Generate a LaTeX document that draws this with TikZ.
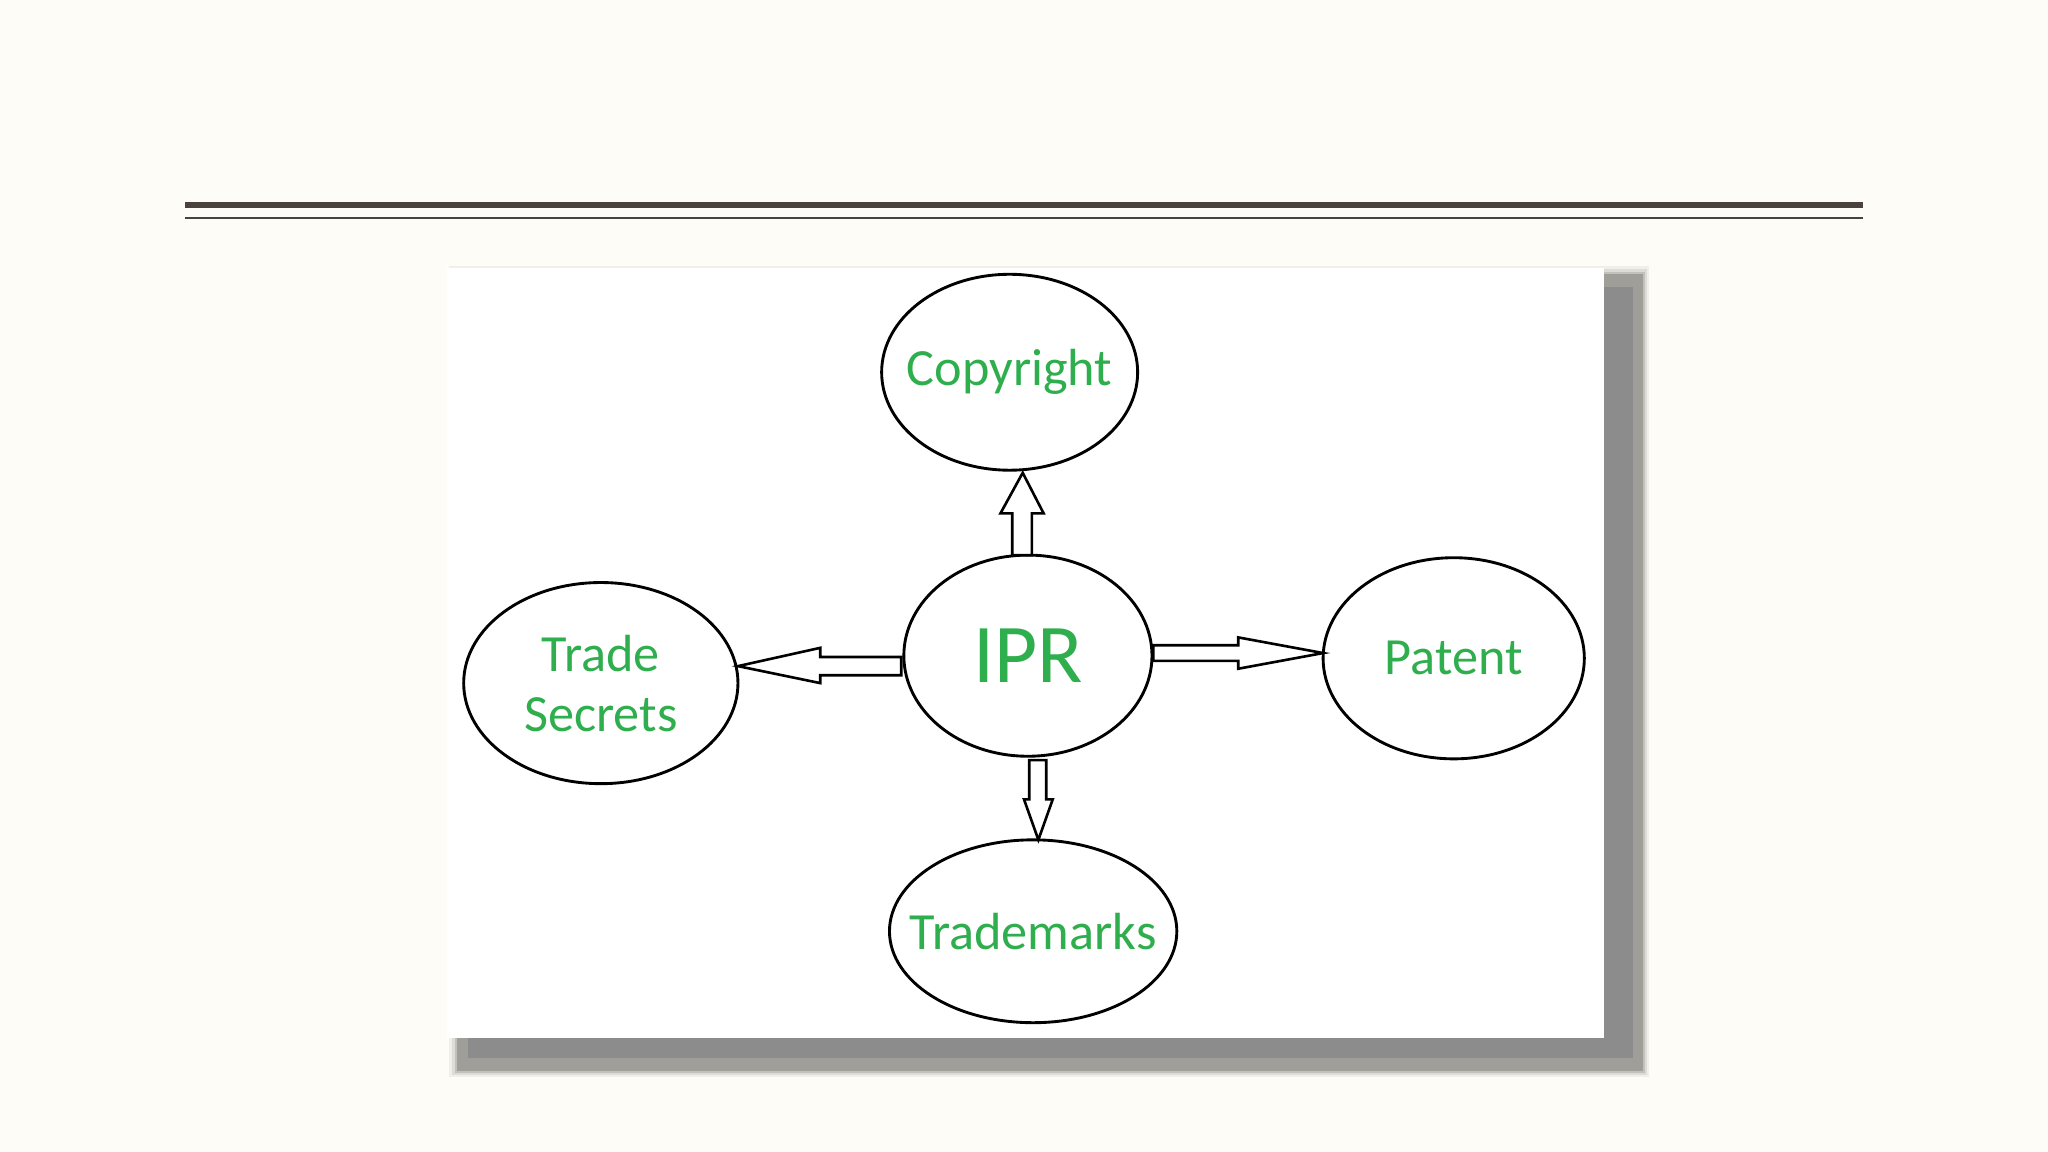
\documentclass[tikz,border=0pt]{standalone}
\usepackage{fontspec}
\setmainfont{Carlito}
\usetikzlibrary{shapes.geometric}
\definecolor{bg}{HTML}{FDFCF6}
\definecolor{grn}{HTML}{2FAE4E}
\definecolor{rule}{HTML}{4A423C}
\begin{document}
\begin{tikzpicture}[x=0.5pt,y=-0.5pt,
  ell/.style={draw=black,line width=1.1pt,ellipse,fill=white,text=grn,font=\fontsize{20}{24}\selectfont,align=center,inner xsep=-14pt,inner ysep=0pt},
  arr/.style={draw=black,line width=1pt,fill=white,line join=miter}]
\fill[bg] (0,0) rectangle (1568,882);
\draw[rule,line width=2.6pt] (142,157) -- (1426,157);
\draw[rule,line width=0.9pt] (142,167) -- (1426,167);
\foreach \o/\a in {16/0.05,12/0.08,8/0.12,4/0.18}{
  \fill[black,opacity=\a] (352-\o*0.5,212-\o*0.5) rectangle (1256+\o*0.4,818+\o*0.4);}
\fill[black!45] (358,220) rectangle (1250,810);
\fill[white] (342,205) rectangle (1228,795);
\node[ell,minimum width=98pt,minimum height=75pt] (cop) at (773,285) {Copyright};
\node[ell,minimum width=95pt,minimum height=77pt,font=\fontsize{32}{36}\selectfont] (ipr) at (787,502) {IPR};
\node[ell,minimum width=100pt,minimum height=77pt] (pat) at (1113,504) {Patent};
\node[ell,minimum width=105pt,minimum height=77pt,font=\fontsize{20}{23}\selectfont] (ts) at (460,523) {Trade\\Secrets};
\node[ell,minimum width=110pt,minimum height=70pt] (tm) at (791,713) {Trademarks};
\draw[arr] (775,425) -- (775,393) -- (766,393) -- (783,362) -- (799,393) -- (790,393) -- (790,425) -- cycle;
\draw[arr] (883,494) -- (948,494) -- (948,488) -- (1013,500) -- (948,512) -- (948,506) -- (883,506) -- cycle;
\draw[arr] (690,503) -- (628,503) -- (628,496) -- (565,510) -- (628,523) -- (628,517) -- (690,517) -- cycle;
\draw[arr] (788,582) -- (788,612) -- (784,612) -- (795,643) -- (806,612) -- (801,612) -- (801,582) -- cycle;
\end{tikzpicture}
\end{document}
